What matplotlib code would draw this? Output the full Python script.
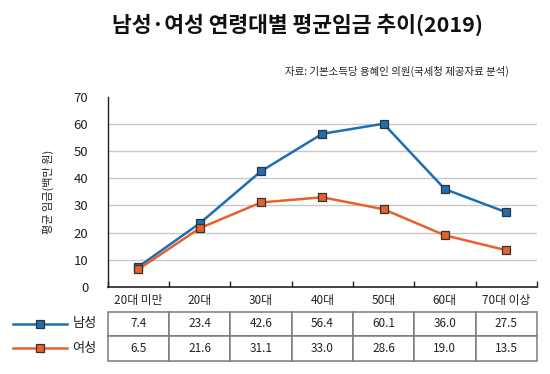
import matplotlib.pyplot as plt
from matplotlib.lines import Line2D

plt.rcParams['font.family'] = ['Noto Sans CJK KR', 'DejaVu Sans']

ages = ["20대 미만", "20대", "30대", "40대", "50대", "60대", "70대 이상"]
male = [7.4, 23.4, 42.6, 56.4, 60.1, 36.0, 27.5]
female = [6.5, 21.6, 31.1, 33.0, 28.6, 19.0, 13.5]
series_names = ["남성", "여성"]

blue = "#1c6fb4"
orange = "#e8602a"

fig = plt.figure(figsize=(5.5, 3.74), dpi=100)
ax = fig.add_axes([0.196, 0.233, 0.78, 0.508])

x = range(len(ages))
for vals, col in [(male, blue), (female, orange)]:
    ax.plot(x, vals, color=col, lw=1.8, marker="s", ms=6,
            mfc=col, mec="#333333", mew=0.9, zorder=3)

ax.set_xlim(-0.5, len(ages) - 0.5)
ax.set_ylim(0, 70)
ax.set_yticks(range(0, 71, 10))
ax.tick_params(axis="y", length=0, labelsize=9.5, pad=14, labelcolor="#222222")
ax.set_xticks(list(x))
ax.set_xticklabels(ages)
ax.tick_params(axis="x", length=0, labelsize=8.5, pad=5, labelcolor="#222222")
ax.set_xticks([i - 0.5 for i in range(len(ages) + 1)], minor=True)
ax.tick_params(axis="x", which="minor", direction="in", length=4, width=1, color="#222222")

for v in range(10, 70, 10):
    ax.axhline(v, color="#c8c8c8", lw=1, zorder=1)

for s in ["top", "right"]:
    ax.spines[s].set_visible(False)
ax.spines["left"].set_color("#222222")
ax.spines["bottom"].set_color("#222222")
ax.spines["left"].set_linewidth(1)
ax.spines["bottom"].set_linewidth(1.2)

ax.set_ylabel("평균 임금(백만 원)", fontsize=8, color="#222222", labelpad=14)

# data table under the axes
cells = [[f"{v:.1f}" for v in male], [f"{v:.1f}" for v in female]]
tbl = ax.table(cellText=cells, cellLoc="center", bbox=[0, -0.39, 1, 0.26])
tbl.auto_set_font_size(False)
tbl.set_fontsize(8.5)
for (r, c), cell in tbl.get_celld().items():
    cell.set_edgecolor("#7a7a7a")
    cell.set_linewidth(1.1)
    cell.get_text().set_color("#222222")

# legend rows next to the table
for i, (name, col) in enumerate(zip(series_names, [blue, orange])):
    yy = -0.194 - i * 0.13
    ax.add_line(Line2D([-0.221, -0.095], [yy, yy], color=col, lw=1.8,
                       transform=ax.transAxes, clip_on=False))
    ax.add_line(Line2D([-0.158], [yy], marker="s", ms=6, mfc=col, mec="#333333",
                       mew=0.9, transform=ax.transAxes, clip_on=False))
    ax.text(-0.082, yy, name, transform=ax.transAxes, fontsize=9.5,
            va="center", ha="left", color="#222222")

fig.text(0.54, 0.935, "남성·여성 연령대별 평균임금 추이(2019)", ha="center", va="center",
         fontsize=15.5, fontweight="bold", color="#111111")
fig.text(0.925, 0.81, "자료: 기본소득당 용혜인 의원(국세청 제공자료 분석)", ha="right",
         va="center", fontsize=7.5, color="#222222")

fig.savefig("out.png", dpi=100, facecolor="white")
